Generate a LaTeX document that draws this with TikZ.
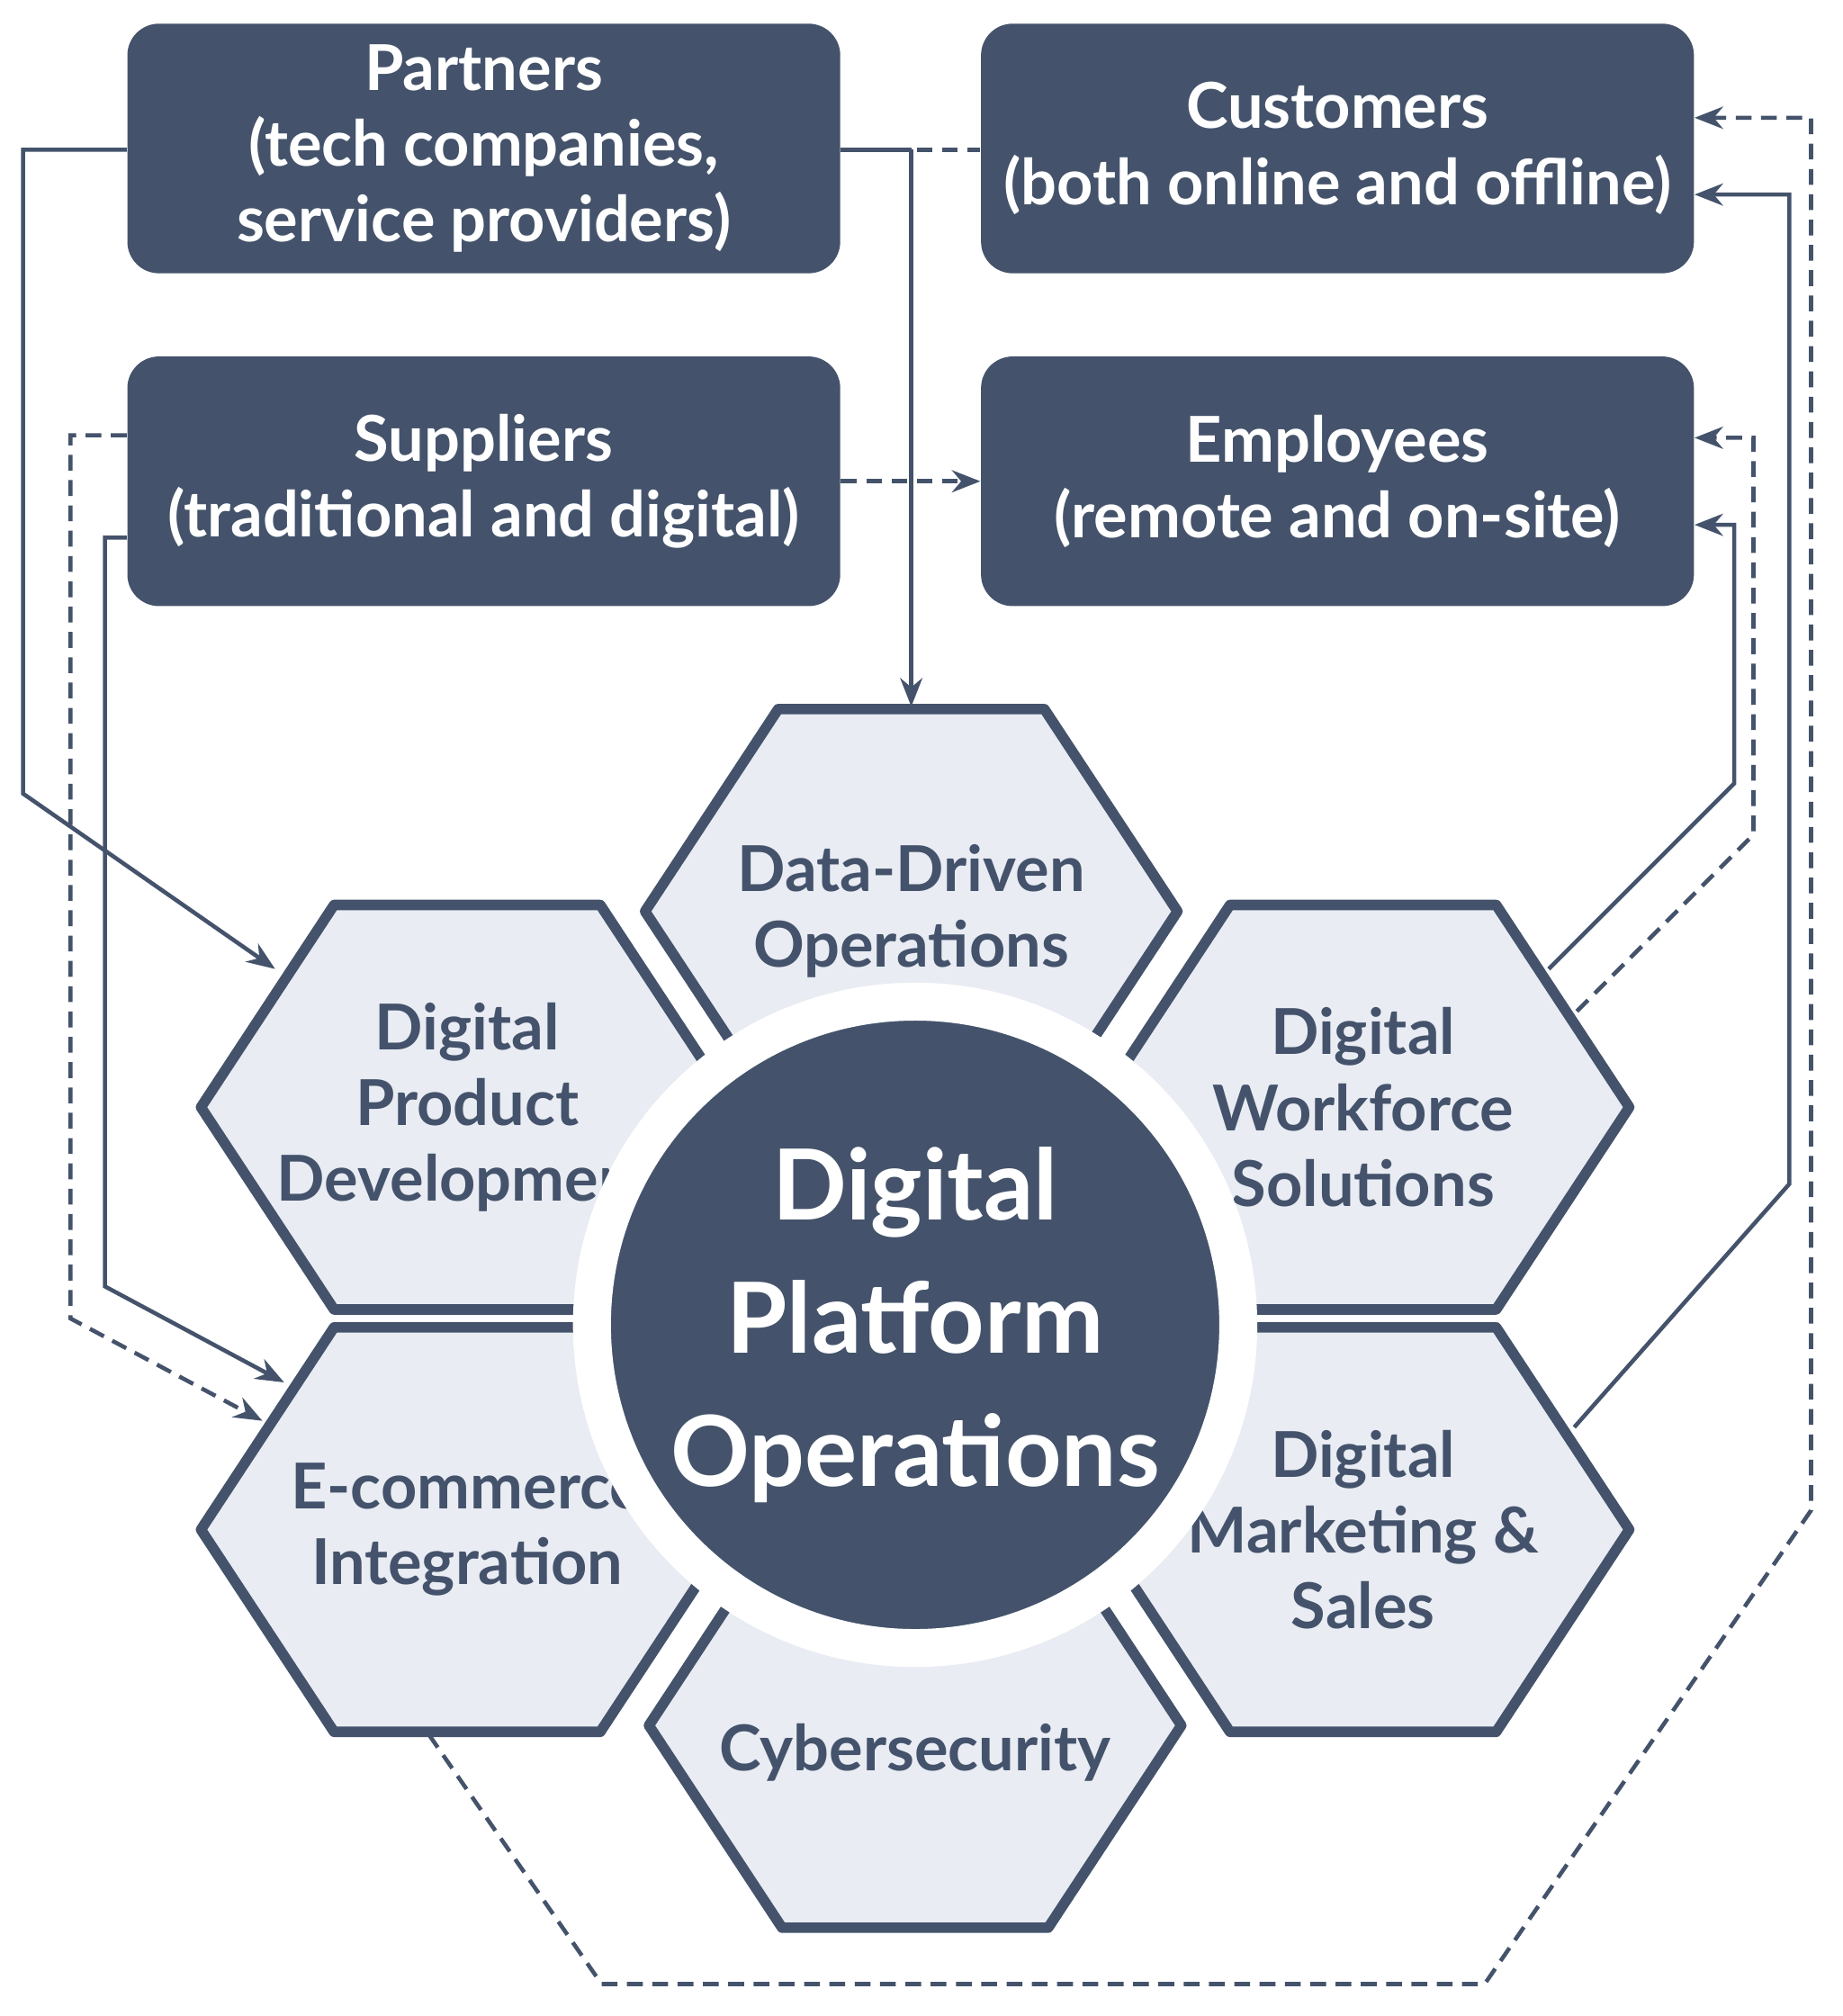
\documentclass[tikz,border=0pt]{standalone}
\usepackage{fontspec}
\setmainfont{Lato}
\usetikzlibrary{positioning, arrows.meta, calc}
\definecolor{slate}{HTML}{44536B}
\definecolor{hexfill}{HTML}{E9ECF3}
\tikzset{
    box/.style={fill=slate, rounded corners=10pt, text=white, align=center,
        minimum width=557*0.014222cm, minimum height=195*0.014222cm,
        font=\fontsize{20}{24}\selectfont\bfseries},
    hexlabel/.style={align=center, text=slate, font=\fontsize{20}{24}\selectfont\bfseries},
    hexline/.style={draw=slate, fill=hexfill, line width=3.3pt, line join=round},
    link/.style={draw=slate, line width=1.3pt, -{Stealth[length=9pt,width=7pt]}},
    dlink/.style={link, dashed, dash pattern=on 5pt off 3pt}
}
% hexagon: name, centre x, centre y, text
\newcommand{\hexcell}[4]{
    \draw[hexline] (#2-208,#3) -- (#2-104,#3-158) -- (#2+104,#3-158) -- (#2+208,#3)
        -- (#2+104,#3+158) -- (#2-104,#3+158) -- cycle;
    \node[hexlabel] (#1) at (#2,#3) {#4};
}

\begin{document}
\begin{tikzpicture}[x=0.014222cm, y=-0.014222cm]
    \useasboundingbox (0,0) rectangle (1440,1575);

    % stakeholder boxes
    \node[box] (partners) at (378,116) {Partners\\(tech companies,\\service providers)};
    \node[box] (customers) at (1045,116) {Customers\\(both online and offline)};
    \node[box] (suppliers) at (378,376) {Suppliers\\(traditional and digital)};
    \node[box] (employees) at (1045,376) {Employees\\(remote and on-site)};

    % hexagons
    \hexcell{data}{712}{712}{Data-Driven\\Operations}
    \hexcell{product}{365}{865}{Digital\\Product\\Development}
    \hexcell{workforce}{1065}{865}{Digital\\Workforce\\Solutions}
    \hexcell{ecom}{365}{1195}{E-commerce\\Integration}
    \hexcell{marketing}{1065}{1195}{Digital\\Marketing \&\\Sales}
    \hexcell{cyber}{715}{1348}{\\[8pt]Cybersecurity}

    \node[circle, fill=slate, draw=white, line width=12pt, minimum size=505*0.014222cm,
        text=white, align=center, font=\fontsize{31}{42}\selectfont\bfseries] (core) at (715,1035)
        {Digital\\Platform\\Operations};

    % connector points
    \coordinate (pc) at (712,117);
    \coordinate (dataTop) at (712,552);
    \coordinate (prodIn) at (215,757);
    \coordinate (ecomInA) at (222,1080);
    \coordinate (ecomInB) at (205,1110);
    \coordinate (wfOutA) at (1210,757);
    \coordinate (wfOutB) at (1232,790);
    \coordinate (mkOut) at (1230,1115);
    \coordinate (ecomOut) at (335,1355);

    % connectors
    \draw[link, -] (partners.east |- pc) -- (pc);
    \draw[dlink, -] (partners.east |- pc) -- (customers.west |- pc);
    \draw[link] (pc) -- (dataTop);
    \draw[link] (partners.west |- 0,117) -- (18,117) -- (18,620) -- (prodIn);
    \draw[dlink] (suppliers.west |- 0,340) -- (55,340) -- (55,1030) -- (ecomInB);
    \draw[link] (suppliers.west |- 0,420) -- (82,420) -- (82,1005) -- (ecomInA);
    \draw[dlink] (suppliers.east) -- (employees.west);
    \draw[link] (wfOutA) -- (1355,612) -- (1355,410) -- (employees.east |- 0,410);
    \draw[dlink] (wfOutB) -- (1370,652) -- (1370,342) -- (employees.east |- 0,342);
    \draw[link] (mkOut) -- (1398,925) -- (1398,152) -- (customers.east |- 0,152);
    \draw[dlink] (ecomOut) -- (470,1550) -- (1160,1550) -- (1415,1180) -- (1415,92)
        -- (customers.east |- 0,92);
\end{tikzpicture}
\end{document}
